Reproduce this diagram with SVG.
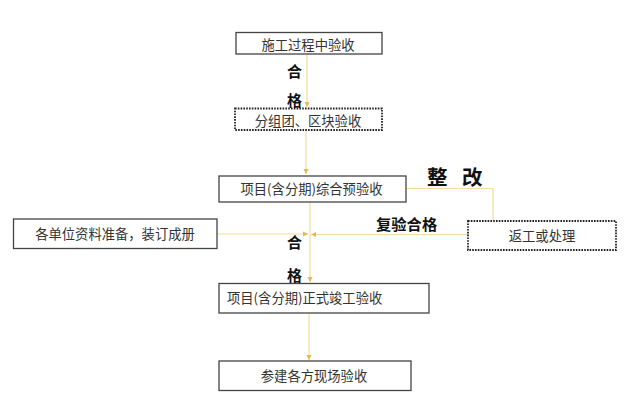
<svg xmlns="http://www.w3.org/2000/svg" width="640" height="405" viewBox="0 0 640 405">
<defs>
<marker id="ah" markerWidth="6" markerHeight="6" refX="5" refY="3" orient="auto" markerUnits="userSpaceOnUse">
<path d="M0,0.5 L5,3 L0,5.5 Z" fill="#e8b84a"/>
</marker>
</defs>
<style>
.box{fill:#fff;stroke:#444;stroke-width:1.3}
.dot{fill:#fff;stroke:#222;stroke-width:1.8;stroke-dasharray:1.6 1.2}
.t{font-family:"Noto Sans CJK SC","Liberation Sans",sans-serif;font-size:13.3px;fill:#333;dominant-baseline:central}
.c{text-anchor:middle}
.b{font-family:"Noto Sans CJK SC","Liberation Sans",sans-serif;font-weight:bold;fill:#111;dominant-baseline:central}
.ln{fill:none;stroke:#f3dc9c;stroke-width:1.2}
</style>
<rect width="640" height="405" fill="#fff"/>
<g id="connectors">
<path class="ln" d="M307,54 V107" marker-end="url(#ah)"/>
<path class="ln" d="M306,130 V174" marker-end="url(#ah)"/>
<path class="ln" d="M406,188.5 H493 V221"/>
<path class="ln" d="M468,234.5 H311" marker-end="url(#ah)"/>
<path class="ln" d="M217,234 H308" marker-end="url(#ah)"/>
<path class="ln" d="M310,202 V282" marker-end="url(#ah)"/>
<path class="ln" d="M309,313 V360" marker-end="url(#ah)"/>
</g>
<g id="n1"><rect class="box" x="236" y="32.5" width="146" height="21.5"/><text class="t c" x="308" y="44">施工过程中验收</text></g>
<g id="n2"><rect class="dot" x="235" y="108.5" width="147" height="21.5"/><text class="t c" x="308" y="120">分组团、区块验收</text></g>
<g id="n3"><rect class="box" x="219" y="176" width="187" height="26"/><text class="t c" x="311.5" y="188">项目(含分期)综合预验收</text></g>
<g id="n4"><rect class="box" x="13.5" y="219" width="203.5" height="29.5"/><text class="t c" x="115" y="233">各单位资料准备，装订成册</text></g>
<g id="n5"><rect class="dot" x="468" y="221" width="148" height="29"/><text class="t c" x="542" y="235">返工或处理</text></g>
<g id="n6"><rect class="box" x="219" y="283.5" width="210" height="29.5"/><text class="t" x="227" y="297">项目(含分期)正式竣工验收</text></g>
<g id="n7"><rect class="box" x="219" y="361" width="192" height="29.5"/><text class="t c" x="314" y="375.5">参建各方现场验收</text></g>
<g id="labels">
<text class="b" x="287" y="70" font-size="15">合</text>
<text class="b" x="287" y="99" font-size="15">格</text>
<text class="b" x="287" y="241.5" font-size="15">合</text>
<text class="b" x="287" y="274" font-size="15">格</text>
<text class="b" x="427 462" y="176" font-size="20.5">整改</text>
<text class="b" x="376" y="223" font-size="15.3">复验合格</text>
</g>
</svg>
